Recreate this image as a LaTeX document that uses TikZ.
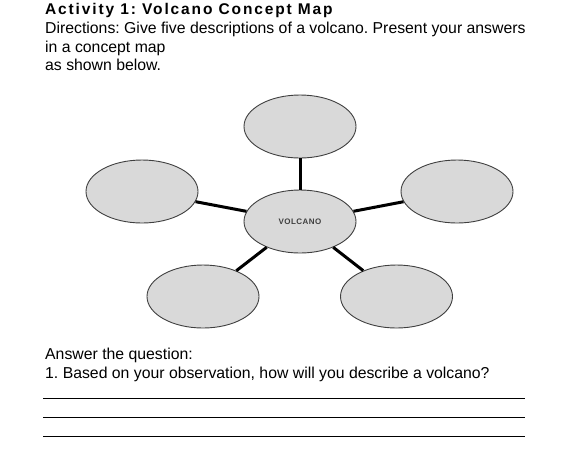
\documentclass[tikz,border=0pt]{standalone}
\usepackage{fontspec}
\setmainfont{Liberation Sans}
\usetikzlibrary{shapes.geometric}
\definecolor{bubblefill}{HTML}{D9D9D9}
\definecolor{bubbleline}{HTML}{3F3F3F}
\tikzset{
  bubble/.style={ellipse,draw=bubbleline,fill=bubblefill,line width=0.9pt,
    minimum width=112pt,minimum height=63pt,inner sep=0pt},
  link/.style={line width=3pt},
  txt/.style={anchor=base west,inner sep=0pt,font=\fontsize{15.8}{18}\selectfont}
}
\frenchspacing
\begin{document}
\begin{tikzpicture}[x=1pt,y=-1pt,line cap=butt,line join=round]
  \useasboundingbox (0,0) rectangle (586,451);
  % heading and directions
  \node[txt,font=\fontsize{15.5}{17}\selectfont\bfseries\addfontfeature{LetterSpace=12}] (title) at (45,14) {Activity 1: Volcano Concept Map};
  \node[txt] (dir1) at (45,33) {Directions: Give five descriptions of a volcano. Present your answers};
  \node[txt] (dir2) at (45,52) {in a concept map};
  \node[txt] (dir3) at (45,70) {as shown below.};
  % concept map
  \node[bubble] (volcano) at (300,221.5) {\fontsize{8}{9}\selectfont\bfseries\addfontfeature{LetterSpace=6}\color{bubbleline}VOLCANO};
  \node[bubble] (top) at (300,126.5) {};
  \node[bubble] (left) at (142,191.5) {};
  \node[bubble] (right) at (457,191.5) {};
  \node[bubble] (lowleft) at (203,296.5) {};
  \node[bubble] (lowright) at (396.5,296.5) {};
  \draw[link] (volcano) -- (top);
  \draw[link] (volcano) -- (left);
  \draw[link] (volcano) -- (right);
  \draw[link] (volcano) -- (lowleft);
  \draw[link] (volcano) -- (lowright);
  % question
  \node[txt] (ask) at (45,359) {Answer the question:};
  \node[txt] (q1) at (45,378) {1. Based on your observation, how will you describe a volcano?};
  \draw[line width=1pt] (43,398) -- (525,398);
  \draw[line width=1pt] (43,417) -- (525,417);
  \draw[line width=1pt] (43,436) -- (525,436);
\end{tikzpicture}
\end{document}
